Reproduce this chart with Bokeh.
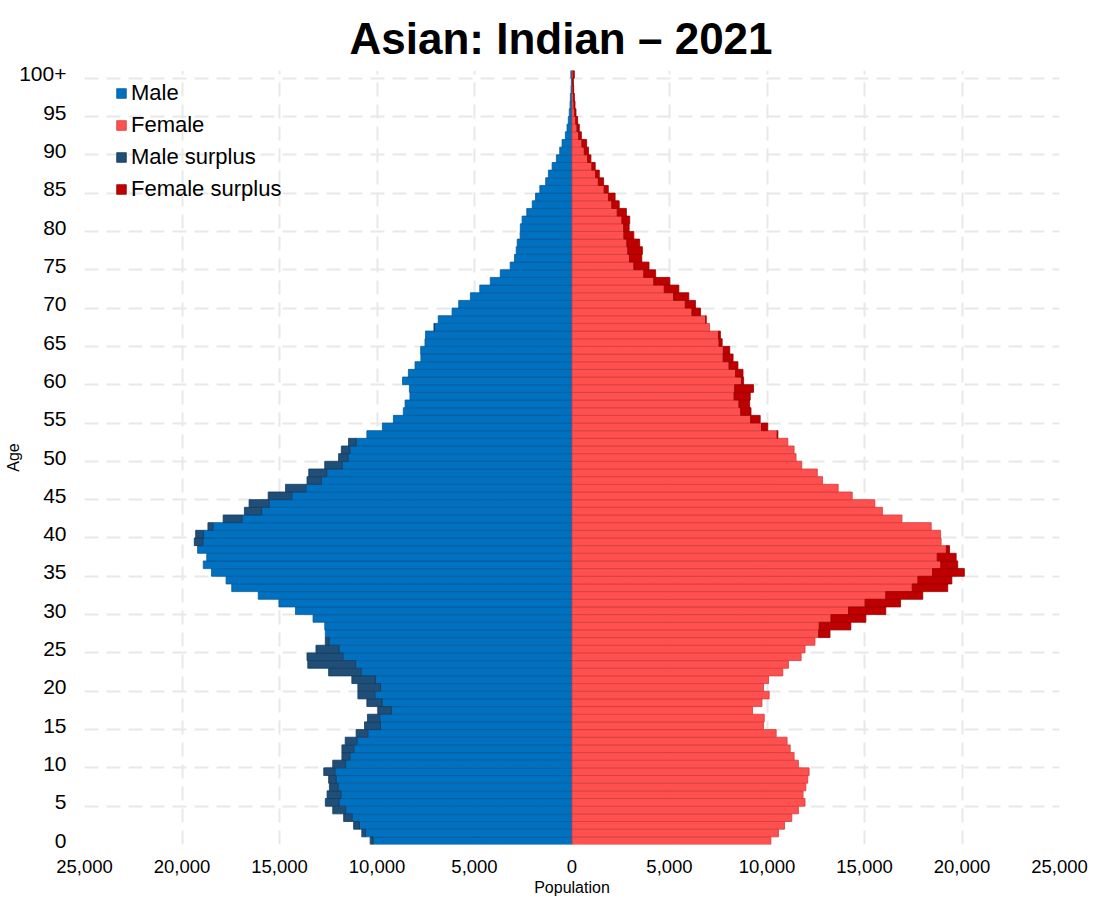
from bokeh.plotting import figure
from bokeh.models import ColumnDataSource, FixedTicker, Legend, LegendItem
from bokeh.embed import file_html
from bokeh.resources import INLINE

# Population by single year of age, 0 to 100+
ages = list(range(101))

male = [
    10350, 10780, 11200, 11710, 12270, 12650, 12560, 12440, 12480, 12730,
    12270, 11800, 11800, 11630, 11070, 10640, 10490, 9960, 10520, 10980,
    10980, 11290, 12480, 13550, 13590, 13130, 12650, 12650, 12680, 13280,
    14180, 15030, 16090, 17450, 17740, 18490, 18910, 18730, 19200, 19370,
    19300, 18670, 17890, 16800, 16560, 15580, 14690, 13590, 13500, 12680,
    11970, 11830, 11460, 10520, 9720, 9160, 8650, 8560, 8310, 8340,
    8690, 8390, 8050, 7750, 7760, 7540, 7510, 7080, 6860, 6150,
    5810, 5210, 4730, 4190, 3680, 3170, 2950, 2860, 2810, 2660,
    2650, 2560, 2320, 2040, 1870, 1650, 1350, 1210, 1020, 800,
    630, 510, 340, 255, 190, 140, 100, 85, 50, 35,
    60,
]

female = [
    10200, 10590, 10900, 11270, 11610, 11950, 11850, 11990, 12090, 12160,
    11610, 11390, 11190, 11030, 10470, 9820, 9860, 9260, 9740, 10110,
    9820, 10080, 10810, 11100, 11750, 11950, 12460, 13230, 14300, 15070,
    16090, 16850, 17990, 19270, 19480, 20120, 19780, 19700, 19360, 18930,
    18900, 18420, 16920, 15920, 15530, 14370, 13650, 12850, 12580, 11780,
    11490, 11390, 11070, 10560, 10040, 9650, 9180, 9110, 9140, 9310,
    8800, 8770, 8510, 8260, 8090, 7700, 7610, 7050, 6880, 6590,
    6330, 5990, 5480, 5020, 4290, 3950, 3580, 3610, 3470, 3170,
    2930, 2960, 2790, 2420, 2210, 1860, 1620, 1400, 1190, 970,
    850, 750, 480, 375, 290, 205, 155, 120, 85, 70,
    120,
]

age_ticks = list(range(0, 101, 5))
age_tick_labels = {100: "100+"}
pop_ticks = list(range(-25000, 25001, 5000))

MALE, MALE_EDGE = "#0070c0", "#0a5a96"
FEMALE, FEMALE_EDGE = "#ff5050", "#d23c3c"
MALE_SUR, MALE_SUR_EDGE = "#1f4e79", "#163a5c"
FEMALE_SUR, FEMALE_SUR_EDGE = "#c00000", "#960000"
FONT = "Liberation Sans"

# Shared part of each age group, plus the surplus of the larger sex
common = [min(m, f) for m, f in zip(male, female)]
core = ColumnDataSource(dict(
    age=ages,
    male_left=[-c for c in common],
    female_right=common,
))
msur_rows = [i for i in ages if male[i] > female[i]]
fsur_rows = [i for i in ages if female[i] > male[i]]
male_sur = ColumnDataSource(dict(
    age=[ages[i] for i in msur_rows],
    left=[-male[i] for i in msur_rows],
    right=[-common[i] for i in msur_rows],
))
female_sur = ColumnDataSource(dict(
    age=[ages[i] for i in fsur_rows],
    left=[common[i] for i in fsur_rows],
    right=[female[i] for i in fsur_rows],
))

p = figure(
    width=1100, height=901,
    x_range=(-25000, 25000), y_range=(-0.5, 100.5),
    output_backend="svg", toolbar_location=None,
    min_border_left=84, min_border_right=41,
    min_border_top=70, min_border_bottom=57,
)
p.outline_line_color = None
p.background_fill_color = "white"
p.border_fill_color = "white"

p.title.text = "Asian: Indian \u2013 2021"
p.title.align = "left"
p.title.offset = 265
p.title.standoff = 16
p.title.text_font = FONT
p.title.text_font_size = "44px"
p.title.text_font_style = "bold"
p.title.text_color = "#000000"

# Dashed grid: vertical every 5,000, horizontal between age groups
p.xgrid.ticker = FixedTicker(ticks=pop_ticks)
p.ygrid.ticker = FixedTicker(ticks=[t - 0.5 for t in age_ticks])
for g in (p.xgrid, p.ygrid):
    g.grid_line_color = "#e8e8e8"
    g.grid_line_width = 2
    g.grid_line_dash = "14 8"

r_male = p.hbar(y="age", left="male_left", right=0, height=1, source=core,
                fill_color=MALE, line_color=MALE_EDGE, line_width=0.8)
r_female = p.hbar(y="age", left=0, right="female_right", height=1, source=core,
                  fill_color=FEMALE, line_color=FEMALE_EDGE, line_width=0.8)
r_msur = p.hbar(y="age", left="left", right="right", height=1, source=male_sur,
                fill_color=MALE_SUR, line_color=MALE_SUR_EDGE, line_width=0.8)
r_fsur = p.hbar(y="age", left="left", right="right", height=1, source=female_sur,
                fill_color=FEMALE_SUR, line_color=FEMALE_SUR_EDGE, line_width=0.8)

# Axes
p.xaxis.ticker = FixedTicker(ticks=pop_ticks)
p.xaxis.major_label_overrides = {t: f"{abs(t):,}" for t in pop_ticks}
p.xaxis.axis_label = "Population"
p.yaxis.ticker = FixedTicker(ticks=age_ticks)
p.yaxis.major_label_overrides = age_tick_labels
p.yaxis.axis_label = "Age"
for ax in (p.xaxis, p.yaxis):
    ax.axis_line_color = None
    ax.major_tick_line_color = None
    ax.minor_tick_line_color = None
    ax.major_tick_out = 0
    ax.major_tick_in = 0
    ax.major_label_text_font = FONT
    ax.major_label_text_color = "#000000"
    ax.axis_label_text_font = FONT
    ax.axis_label_text_font_style = "normal"
    ax.axis_label_text_color = "#000000"
    ax.axis_label_text_font_size = "16px"
p.xaxis.major_label_text_font_size = "18.5px"
p.xaxis.major_label_standoff = 15
p.xaxis.axis_label_standoff = 3
p.yaxis.major_label_text_font_size = "21px"
p.yaxis.major_label_standoff = 18
p.yaxis.axis_label_standoff = -6

# Legend
legend = Legend(
    items=[
        LegendItem(label="Male", renderers=[r_male]),
        LegendItem(label="Female", renderers=[r_female]),
        LegendItem(label="Male surplus", renderers=[r_msur]),
        LegendItem(label="Female surplus", renderers=[r_fsur]),
    ],
    location=(31, 642),
    glyph_width=12, glyph_height=12,
    label_text_font=FONT, label_text_font_size="22px",
    label_text_color="#000000",
    label_standoff=4, spacing=6, padding=0, margin=0,
    background_fill_alpha=0, border_line_color=None,
)
p.add_layout(legend)

open("out.html", "w").write(file_html(p, INLINE))
